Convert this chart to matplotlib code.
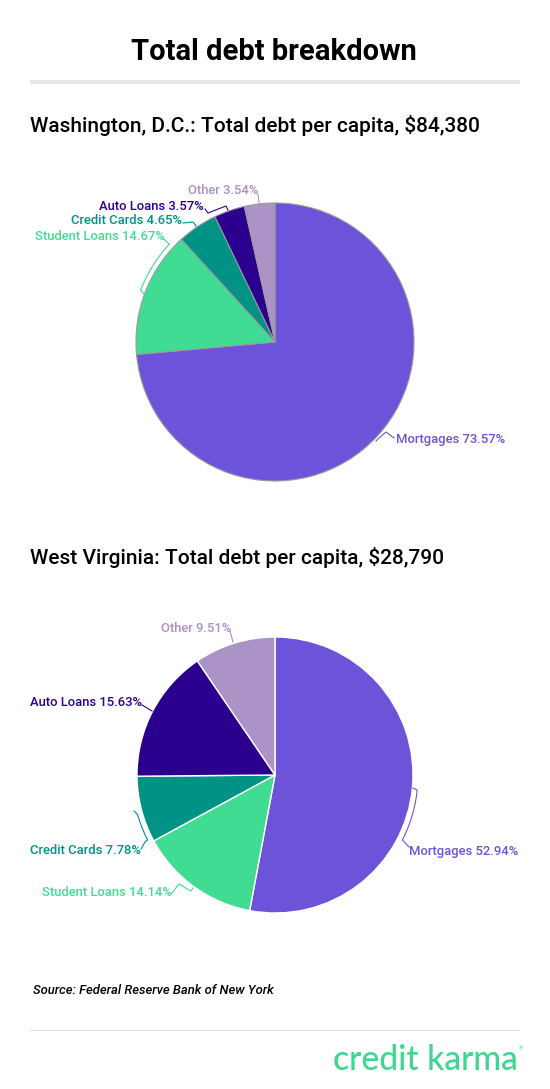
import numpy as np
import matplotlib
matplotlib.use("Agg")
import matplotlib.pyplot as plt
from matplotlib.patches import Rectangle

# ---------------- data ----------------
categories = ["Mortgages", "Student Loans", "Credit Cards", "Auto Loans", "Other"]
dc_values = [73.57, 14.67, 4.65, 3.57, 3.54]
wv_values = [52.94, 14.14, 7.78, 15.63, 9.51]
colors = ["#6c53d9", "#41dc93", "#009385", "#2b008f", "#ab93c7"]
label_colors = ["#6c53d9", "#41dc93", "#009385", "#2b008f", "#a990c8"]

title = "Total debt breakdown"
dc_title = "Washington, D.C.: Total debt per capita, $84,380"
wv_title = "West Virginia: Total debt per capita, $28,790"
source = "Source: Federal Reserve Bank of New York"
brand = "credit karma"

FONT = ["Roboto", "DejaVu Sans"]
plt.rcParams['font.family'] = FONT

W, H = 550, 1089
fig = plt.figure(figsize=(W / 100, H / 100), dpi=100)
ax = fig.add_axes([0, 0, 1, 1])

# ---------------- pies (pixel coordinates, y downward) ----------------
def draw_pie(values, center, radius, edge, lw):
    ax.pie(values, colors=colors, center=center, radius=radius,
           startangle=-90, counterclock=True,
           wedgeprops=dict(edgecolor=edge, linewidth=lw))

draw_pie(dc_values, (275, 342), 139, "#9a9a9a", 0.8)
draw_pie(wv_values, (275, 775), 138, "white", 1.0)

ax.set_xlim(0, W)
ax.set_ylim(H, 0)
ax.set_aspect('auto')
ax.axis('off')

def fmt(cat, v):
    return f"{cat} {v:.2f}%"

# label layout: (x, y, ha) per category for each pie
dc_layout = {
    "Mortgages": (396, 439, 'left'),
    "Student Loans": (165, 236, 'right'),
    "Credit Cards": (182, 221, 'right'),
    "Auto Loans": (204, 206, 'right'),
    "Other": (258, 190, 'right'),
}
wv_layout = {
    "Mortgages": (409, 851, 'left'),
    "Student Loans": (172, 892, 'right'),
    "Credit Cards": (141, 851, 'right'),
    "Auto Loans": (142, 703, 'right'),
    "Other": (231, 628, 'right'),
}

def arc_pts(cx, cy, R, t0, t1, n=20):
    t = np.radians(np.linspace(t0, t1, n))
    return list(zip(cx + R * np.sin(t), cy - R * np.cos(t)))

dc_leaders = {
    "Mortgages": [(376, 441), (379, 438), (386, 432), (394, 438)],
    "Student Loans": [(164, 239), (168, 243)] + arc_pts(275, 342, 144, 313, 291) + [(144, 294)],
    "Credit Cards": [(183, 223), (193, 222), (196, 226)],
    "Auto Loans": [(205, 209), (208, 213), (226, 206), (228, 210)],
    "Other": [(258, 194), (259, 203)],
}
wv_leaders = {
    "Mortgages": [(413, 788), (417, 790)] + arc_pts(275, 775, 143, 97, 117) + [(409, 847)],
    "Student Loans": [(172, 893), (179, 884), (191, 891), (193, 888)],
    "Credit Cards": [(141, 849), (145, 842)] + arc_pts(275, 775, 143, 243, 254) + [(134, 811)],
    "Auto Loans": [(142, 705), (152, 711)],
    "Other": [(230, 631), (233, 642)],
}

def draw_labels(values, layout, leaders):
    for cat, v, lc in zip(categories, values, label_colors):
        x, y, ha = layout[cat]
        ax.text(x, y, fmt(cat, v), color=lc, fontsize=9.35, fontweight='medium',
                ha=ha, va='center')
        pts = np.array(leaders[cat])
        ax.plot(pts[:, 0], pts[:, 1], color=lc, lw=0.8, solid_joinstyle='miter')

draw_labels(dc_values, dc_layout, dc_leaders)
draw_labels(wv_values, wv_layout, wv_leaders)

# ---------------- text & decorations ----------------
ax.text(274, 52, title, ha='center', va='center', fontsize=21,
        fontweight='bold', color='black')
ax.add_patch(Rectangle((30, 80), 490, 4, color="#e6e6e6", lw=0))
ax.text(30, 126, dc_title, ha='left', va='center', fontsize=15,
        fontweight='medium', color='black')
ax.text(30, 557, wv_title, ha='left', va='center', fontsize=15,
        fontweight='medium', color='black')
ax.text(33, 990, source, ha='left', va='center', fontsize=9.4,
        fontstyle='italic', fontweight='medium', color='black')
ax.add_patch(Rectangle((30, 1029.5), 490, 1, color="#dddddd", lw=0))
ax.text(518, 1060, brand, ha='right', va='center', fontsize=24.2,
        family=["Lato", "DejaVu Sans"], fontweight='medium', color="#3fd68f")
ax.text(521, 1049, "®", ha='center', va='center', fontsize=4, color="#3fd68f")

fig.savefig("out.png", dpi=100, facecolor='white')
